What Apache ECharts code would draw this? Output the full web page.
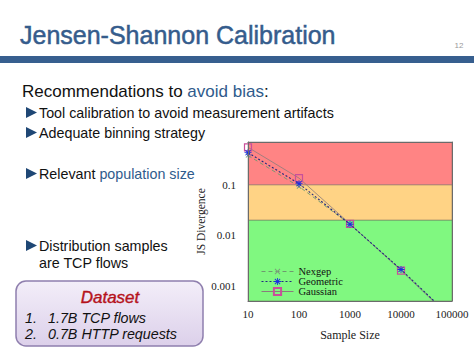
<!DOCTYPE html>
<html>
<head>
<meta charset="utf-8">
<script src="https://cdn.jsdelivr.net/npm/echarts@6/dist/echarts.min.js"></script>
<style>
html,body{margin:0;padding:0;background:#fff;}
#c{width:474px;height:355px;}
</style>
</head>
<body>
<div id="c"></div>
<script>
// ---- data ----
const sampleSizes = [10, 100, 1000, 10000, 100000];
const nexgep    = [0.38, 0.092, 0.0165, 0.0021, 0.00023];
const geometric = [0.43, 0.105, 0.0165, 0.0021, 0.00023];
const gaussian  = [0.55, 0.135, 0.0168, 0.0020, 0.00022];
const seriesNames = ['Nexgep', 'Geometric', 'Gaussian'];
const xTickLabels = ['10', '100', '1000', '10000', '100000'];
const yTickLabels = ['0.001', '0.01', '0.1'];
const bandBounds = [0.0005, 0.02, 0.1, 0.7]; // green | orange | red
const yMin = 0.0005, yMax = 0.7;
const xMin = 10, xMax = 100000;

const serif = '"Liberation Serif", "DejaVu Serif", serif';
const sans = '"Liberation Sans", Arial, sans-serif';

function pairs(ys) { return sampleSizes.map((x, i) => [x, ys[i]]); }
function isDecade(v) { const l = Math.log10(v); return Math.abs(l - Math.round(l)) < 1e-6; }

const xSymbol = 'path://M4.3,0H5.7V4.3H10V5.7H5.7V10H4.3V5.7H0V4.3H4.3Z';
const starSymbol = 'path://M4.4,0H5.6V10H4.4Z M0,4.4H10V5.6H0Z M0.9,1.8L1.8,0.9L9.1,8.2L8.2,9.1Z M8.2,0.9L9.1,1.8L1.8,9.1L0.9,8.2Z';

const chart = echarts.init(document.getElementById('c'), null, {renderer: 'svg'});

const axisLineStyle = {show: true, lineStyle: {color: '#6b6b6b', width: 1}};
const bodyFont = '14.3px ' + sans;

const option = {
  backgroundColor: '#ffffff',
  animation: false,
  grid: {left: 248, right: 22, top: 142, bottom: 54, containLabel: false},
  xAxis: [{
    type: 'log', logBase: 10, min: xMin, max: xMax, z: 10,
    axisLine: axisLineStyle, axisTick: {show: false}, splitLine: {show: false},
    axisLabel: {
      margin: 7, color: '#222', fontFamily: serif, fontSize: 11,
      formatter: v => { const i = Math.round(Math.log10(v)) - 1; return isDecade(v) ? (xTickLabels[i] || '') : ''; }
    },
    name: 'Sample Size', nameLocation: 'middle', nameGap: 28,
    nameTextStyle: {fontFamily: serif, fontSize: 12, color: '#222'}
  }, {
    type: 'log', logBase: 10, min: xMin, max: xMax, position: 'top', z: 10,
    axisLine: axisLineStyle, axisTick: {show: false}, axisLabel: {show: false}, splitLine: {show: false}
  }],
  yAxis: [{
    type: 'log', logBase: 10, min: yMin, max: yMax, z: 10,
    axisLine: axisLineStyle, axisTick: {show: false}, splitLine: {show: false},
    axisLabel: {
      margin: 12, color: '#222', fontFamily: serif, fontSize: 11,
      formatter: v => { if (!isDecade(v)) return ''; const i = Math.round(Math.log10(v)) + 3; return yTickLabels[i] || ''; }
    },
    name: 'JS Divergence', nameLocation: 'middle', nameRotate: 90, nameGap: 41,
    nameTextStyle: {fontFamily: serif, fontSize: 11.5, color: '#222'}
  }, {
    type: 'log', logBase: 10, min: yMin, max: yMax, position: 'right', z: 10,
    axisLine: axisLineStyle, axisTick: {show: false}, axisLabel: {show: false}, splitLine: {show: false}
  }],
  legend: {
    data: seriesNames, orient: 'vertical', left: 261, top: 266, itemGap: -1,
    itemWidth: 32, itemHeight: 9, padding: 0,
    lineStyle: {width: 1},
    textStyle: {fontFamily: serif, fontSize: 10.5, color: '#111'}
  },
  series: [
    {
      name: 'bands', type: 'line', data: pairs(gaussian).slice(0, 1), z: 1,
      showSymbol: false, lineStyle: {opacity: 0}, silent: true,
      markArea: {
        silent: true,
        itemStyle: {borderColor: 'rgba(110,100,90,0.6)', borderWidth: 0.8},
        data: [
          [{yAxis: bandBounds[0], itemStyle: {color: '#80f880'}}, {yAxis: bandBounds[1]}],
          [{yAxis: bandBounds[1], itemStyle: {color: '#ffd385'}}, {yAxis: bandBounds[2]}],
          [{yAxis: bandBounds[2], itemStyle: {color: '#ff8484'}}, {yAxis: bandBounds[3]}]
        ]
      }
    },
    {
      name: 'Nexgep', type: 'line', data: pairs(nexgep), z: 3,
      symbol: xSymbol, symbolRotate: 45, symbolSize: 6,
      itemStyle: {color: '#7aa07a'},
      lineStyle: {color: '#6e9a6e', width: 0.9, type: [4, 3]}
    },
    {
      name: 'Geometric', type: 'line', data: pairs(geometric), z: 4,
      symbol: starSymbol, symbolSize: 7,
      itemStyle: {color: '#1a2ee0'},
      lineStyle: {color: '#222a80', width: 1.1, type: [2, 2]}
    },
    {
      name: 'Gaussian', type: 'line', data: pairs(gaussian), z: 3,
      symbol: 'rect', symbolSize: 7,
      itemStyle: {color: 'rgba(255,255,255,0)', borderColor: '#c8509a', borderWidth: 1.2},
      lineStyle: {color: '#8a7c7c', width: 0.8}
    }
  ],
  graphic: [
    // slide title
    {type: 'text', x: 20, y: 35, z: 100, style: {text: 'Jensen-Shannon Calibration', font: '25px ' + sans, fill: '#355c8c', stroke: '#355c8c', lineWidth: 0.5, verticalAlign: 'middle'}},
    {type: 'text', x: 459, y: 45, z: 100, style: {text: '12', font: '8px ' + sans, fill: '#9a9a9a', align: 'center', verticalAlign: 'middle'}},
    {type: 'rect', shape: {x: 0, y: 56, width: 474, height: 7}, z: 100, style: {fill: '#375f8f'}},
    // body
    {type: 'text', x: 22, y: 91, z: 100, style: {
      text: '{a|Recommendations to }{b|avoid bias}{a|:}', font: '17px ' + sans, verticalAlign: 'middle',
      rich: {a: {fill: '#111', font: '17px ' + sans}, b: {fill: '#2f5b8c', font: '17px ' + sans}}}},
    {type: 'polygon', z: 100, shape: {points: [[26, 107], [37, 112.5], [26, 118]]}, style: {fill: '#1f4775'}},
    {type: 'text', x: 39, y: 112.5, z: 100, style: {text: 'Tool calibration to avoid measurement artifacts', font: bodyFont, fill: '#111', verticalAlign: 'middle'}},
    {type: 'polygon', z: 100, shape: {points: [[26, 127], [37, 132.5], [26, 138]]}, style: {fill: '#1f4775'}},
    {type: 'text', x: 39, y: 132.5, z: 100, style: {text: 'Adequate binning strategy', font: bodyFont, fill: '#111', verticalAlign: 'middle'}},
    {type: 'polygon', z: 100, shape: {points: [[26, 168], [37, 173.5], [26, 179]]}, style: {fill: '#1f4775'}},
    {type: 'text', x: 39, y: 173.5, z: 100, style: {
      text: '{a|Relevant }{b|population size}', font: bodyFont, verticalAlign: 'middle',
      rich: {a: {fill: '#111', font: bodyFont}, b: {fill: '#2f5b8c', font: bodyFont}}}},
    {type: 'polygon', z: 100, shape: {points: [[26, 240], [37, 245.5], [26, 251]]}, style: {fill: '#1f4775'}},
    {type: 'text', x: 39, y: 245.5, z: 100, style: {text: 'Distribution samples', font: bodyFont, fill: '#111', verticalAlign: 'middle'}},
    {type: 'text', x: 39, y: 262.5, z: 100, style: {text: 'are TCP flows', font: bodyFont, fill: '#111', verticalAlign: 'middle'}},
    // dataset box
    {type: 'rect', z: 100, shape: {x: 16, y: 281, width: 187, height: 65, r: 10},
      style: {
        fill: new echarts.graphic.LinearGradient(0, 0, 0, 1, [{offset: 0, color: '#f3eef9'}, {offset: 1, color: '#dcd0ea'}]),
        stroke: '#8f7fae', lineWidth: 1.5
      }},
    {type: 'text', x: 110, y: 297.5, z: 101, style: {text: 'Dataset', font: 'italic 17px ' + sans, fill: '#b5121b', stroke: '#b5121b', lineWidth: 0.4, align: 'center', verticalAlign: 'middle'}},
    {type: 'text', x: 25, y: 317.5, z: 101, style: {text: '1.', font: 'italic 14.3px ' + sans, fill: '#111', verticalAlign: 'middle'}},
    {type: 'text', x: 48, y: 317.5, z: 101, style: {text: '1.7B TCP flows', font: 'italic 14.3px ' + sans, fill: '#111', verticalAlign: 'middle'}},
    {type: 'text', x: 25, y: 333.5, z: 101, style: {text: '2.', font: 'italic 14.3px ' + sans, fill: '#111', verticalAlign: 'middle'}},
    {type: 'text', x: 48, y: 333.5, z: 101, style: {text: '0.7B HTTP requests', font: 'italic 14.3px ' + sans, fill: '#111', verticalAlign: 'middle'}}
  ]
};
chart.setOption(option);
</script>
</body>
</html>
